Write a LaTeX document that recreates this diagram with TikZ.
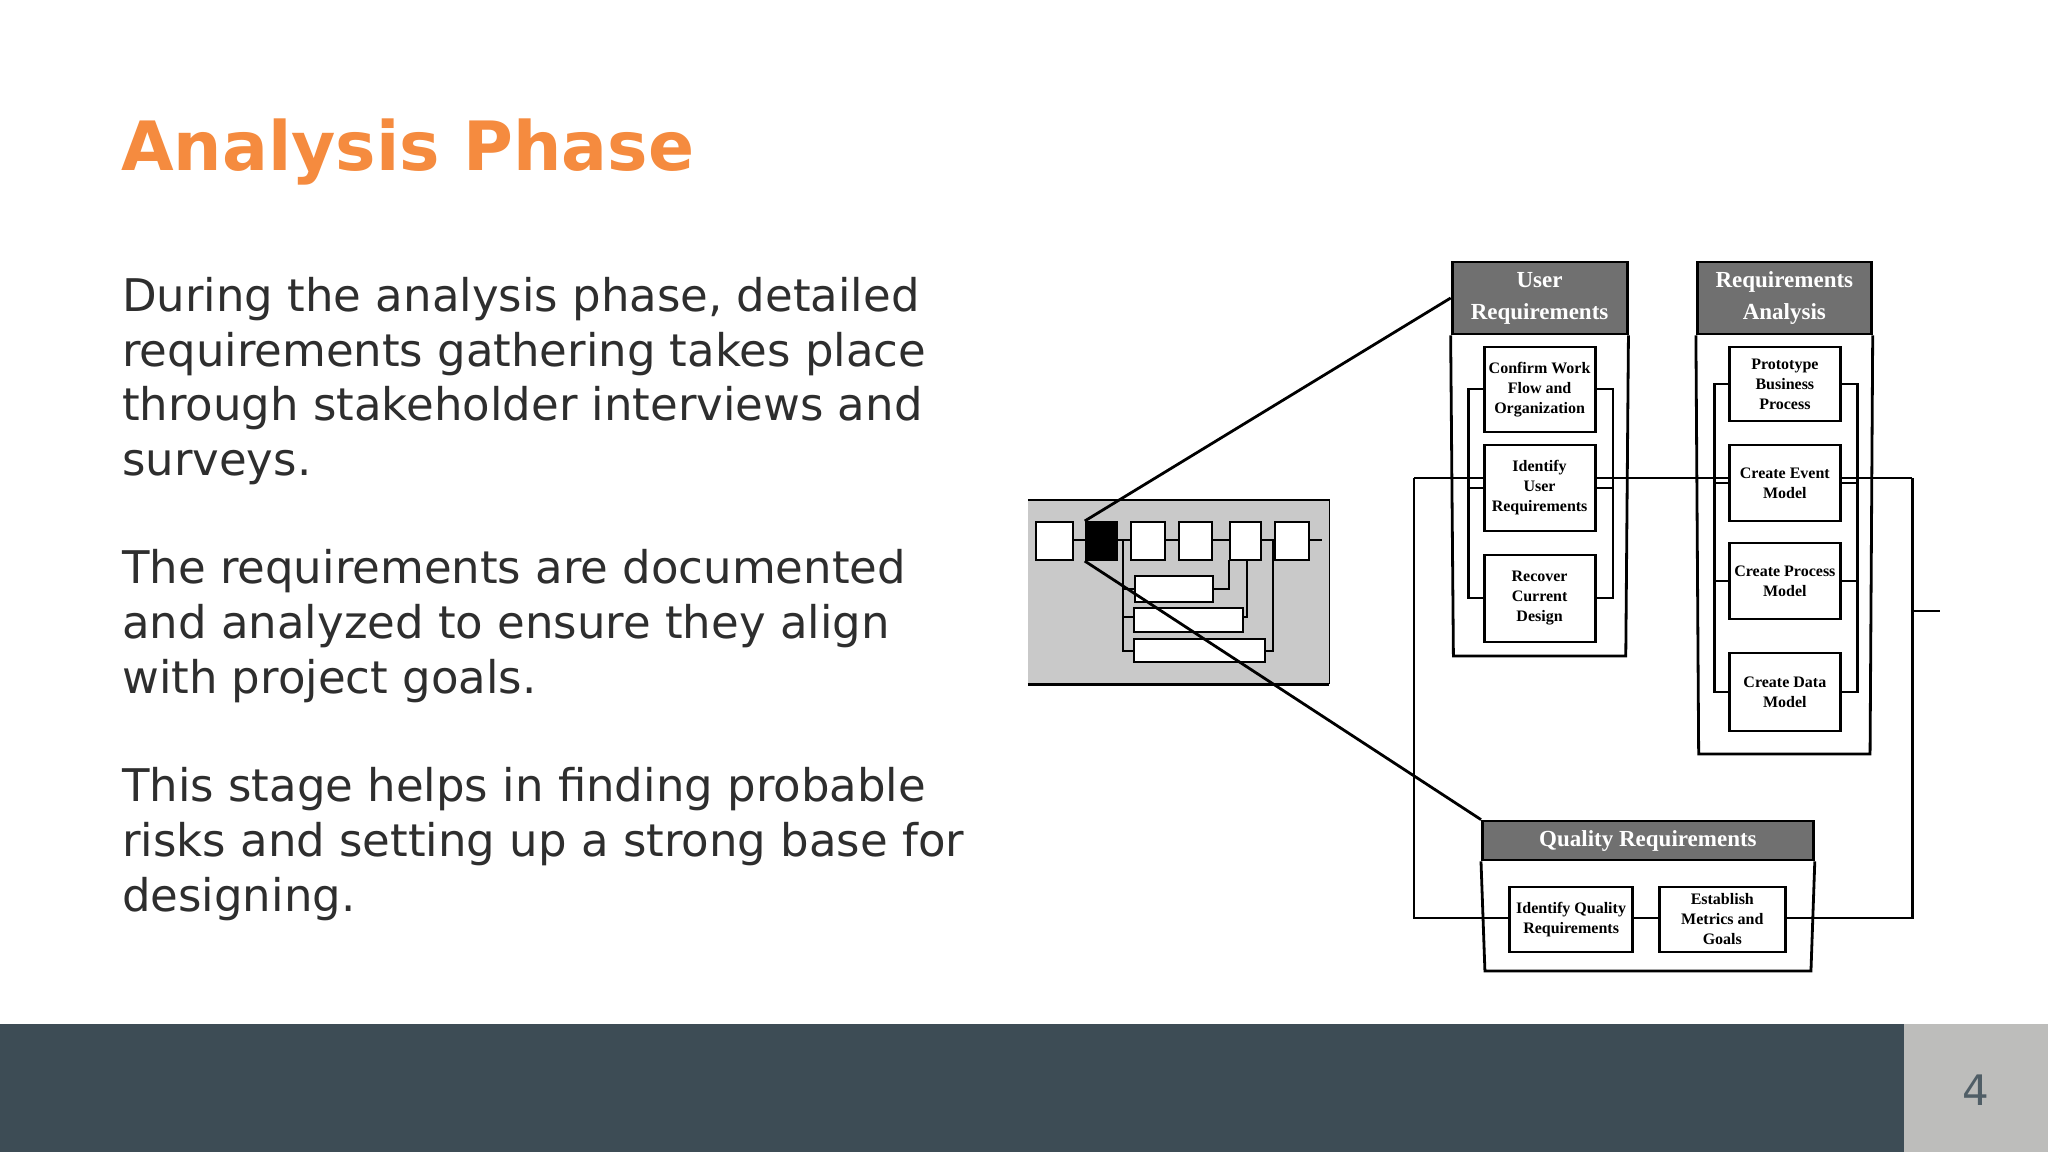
\documentclass[tikz,border=0pt]{standalone}
\usepackage{fontspec}
\setmainfont{DejaVu Sans}
\newfontfamily\diag{Liberation Serif}
\definecolor{orng}{HTML}{F58B3F}
\definecolor{bodyc}{HTML}{2E2E2E}
\definecolor{footc}{HTML}{3D4C55}
\definecolor{pagec}{HTML}{BDBDBB}
\definecolor{hdrc}{HTML}{707070}
\definecolor{panelc}{HTML}{C9C9C9}
\begin{document}
\begin{tikzpicture}[x=1pt,y=-1pt,
  ln/.style={line width=2.8pt},
  sub/.style={draw,line width=2.8pt,fill=white,inner sep=0pt,align=center,font=\diag\bfseries\fontsize{16}{20}\selectfont},
  hdr/.style={draw,line width=2.8pt,fill=hdrc,text=white,inner sep=0pt,align=center,font=\diag\bfseries\fontsize{23}{32}\selectfont},
  sq/.style={draw,line width=2pt,fill=white,inner sep=0pt},
  para/.style={anchor=north west,inner sep=0pt,align=left,text=bodyc,font=\fontsize{45}{54.8}\selectfont}]
\useasboundingbox (0,0) rectangle (2048,1152);
\fill[white] (0,0) rectangle (2048,1152);
% footer
\fill[footc] (0,1024) rectangle (1904,1152);
\fill[pagec] (1904,1024) rectangle (2048,1152);
\node[text=footc!90,font=\fontsize{42}{48}\selectfont] (pg) at (1976,1090) {4};
% title and text
\node[anchor=base west,inner sep=0pt,text=orng,font=\bfseries\fontsize{68}{78}\selectfont] (title) at (121,170) {Analysis Phase};
\node[para] (p1) at (122,277) {During the analysis phase, detailed\\requirements gathering takes place\\through stakeholder interviews and\\surveys.};
\node[para] (p2) at (122,549) {The requirements are documented\\and analyzed to ensure they align\\with project goals.};
\node[para] (p3) at (122,767) {This stage helps in finding probable\\risks and setting up a strong base for\\designing.};
\begin{scope}[shift={(1020,0)},xscale=0.985,shift={(-1020,0)}]
% gray panel
\fill[panelc] (1028,500) rectangle (1334,684);
\draw[line width=1.5pt] (1028,500) -- (1334,500) -- (1334,684);
\draw[line width=3pt] (1028,684) -- (1334,684);
\draw[line width=2pt] (1074,540) -- (1327,540);
\draw[line width=2pt] (1137,540) -- (1125,540) -- (1125,651) -- (1137,651);
\draw[line width=2pt] (1125,589) -- (1137,589);
\draw[line width=2pt] (1125,617) -- (1137,617);
\draw[line width=2pt] (1232,560) -- (1232,589) -- (1215,589);
\draw[line width=2pt] (1250,560) -- (1250,617) -- (1246,617);
\draw[line width=2pt] (1277,540) -- (1277,651) -- (1268,651);
\node[sq,minimum width=37,minimum height=38] (b1) at (1055.5,541) {};
\node[sq,fill=black,minimum width=31,minimum height=38] (b2) at (1102.5,541) {};
\node[sq,minimum width=34,minimum height=38] (b3) at (1150,541) {};
\node[sq,minimum width=33,minimum height=38] (b4) at (1198.5,541) {};
\node[sq,minimum width=31,minimum height=38] (b5) at (1248.5,541) {};
\node[sq,minimum width=34,minimum height=38] (b6) at (1296,541) {};
\node[sq,minimum width=78,minimum height=26] (r1) at (1176,589) {};
\node[sq,minimum width=109,minimum height=24] (r2) at (1191.5,620) {};
\node[sq,minimum width=131,minimum height=23] (r3) at (1202.5,650.5) {};
% main loop lines
\draw[ln] (1420,478) -- (1926,478);
\draw[ln] (1420,478) -- (1420,918) -- (1926,918) -- (1926,478);
\draw[ln] (1926,611) -- (1954,611);
% user requirements
\node[hdr,minimum width=175,minimum height=72] (urh) at (1547.5,298) {User\\Requirements};
\draw[ln] (urh.south west) -- (1460,656) -- (1635,656) -- (urh.south east);
\draw[ln] (1492,389) -- (1475,389) -- (1475,598) -- (1492,598);
\draw[ln] (1475,488) -- (1492,488);
\draw[ln] (1603,389) -- (1622,389) -- (1622,598) -- (1603,598);
\draw[ln] (1603,488) -- (1622,488);
\node[sub,minimum width=111,minimum height=85] (cw) at (1547.5,389.5) {Confirm Work\\Flow and\\Organization};
\node[sub,minimum width=111,minimum height=86] (iu) at (1547.5,488) {Identify\\User\\Requirements};
\node[sub,minimum width=111,minimum height=87] (rc) at (1547.5,598.5) {Recover\\Current\\Design};
% requirements analysis
\node[hdr,minimum width=174,minimum height=72] (rah) at (1796,298) {Requirements\\Analysis};
\draw[ln] (rah.south west) -- (1709,754) -- (1883,754) -- (rah.south east);
\draw[ln] (1741,384) -- (1725,384) -- (1725,692) -- (1741,692);
\draw[ln] (1725,483) -- (1741,483);
\draw[ln] (1725,581) -- (1741,581);
\draw[ln] (1852,384) -- (1870,384) -- (1870,692) -- (1852,692);
\draw[ln] (1852,483) -- (1870,483);
\draw[ln] (1852,581) -- (1870,581);
\node[sub,minimum width=111,minimum height=74] (pb) at (1796.5,384) {Prototype\\Business\\Process};
\node[sub,minimum width=111,minimum height=76] (ce) at (1796.5,483) {Create Event\\Model};
\node[sub,minimum width=111,minimum height=76] (cp) at (1796.5,581) {Create Process\\Model};
\node[sub,minimum width=111,minimum height=78] (cd) at (1796.5,692) {Create Data\\Model};
% quality requirements
\node[hdr,minimum width=331,minimum height=39,font=\diag\bfseries\fontsize{23}{26}\selectfont] (qh) at (1657.5,840.5) {Quality Requirements};
\draw[ln] (qh.south west) -- (1492,971) -- (1823,971) -- (qh.south east);
\node[sub,minimum width=123,minimum height=65] (iq) at (1579.5,919.5) {Identify Quality\\Requirements};
\node[sub,minimum width=126,minimum height=65] (em) at (1733,919.5) {Establish\\Metrics and\\Goals};
% zoom lines
\draw[line width=2.8pt] (b2.north west) -- (urh.west);
\draw[line width=2.8pt] (b2.south west) -- (qh.north west);
\end{scope}
\end{tikzpicture}
\end{document}
